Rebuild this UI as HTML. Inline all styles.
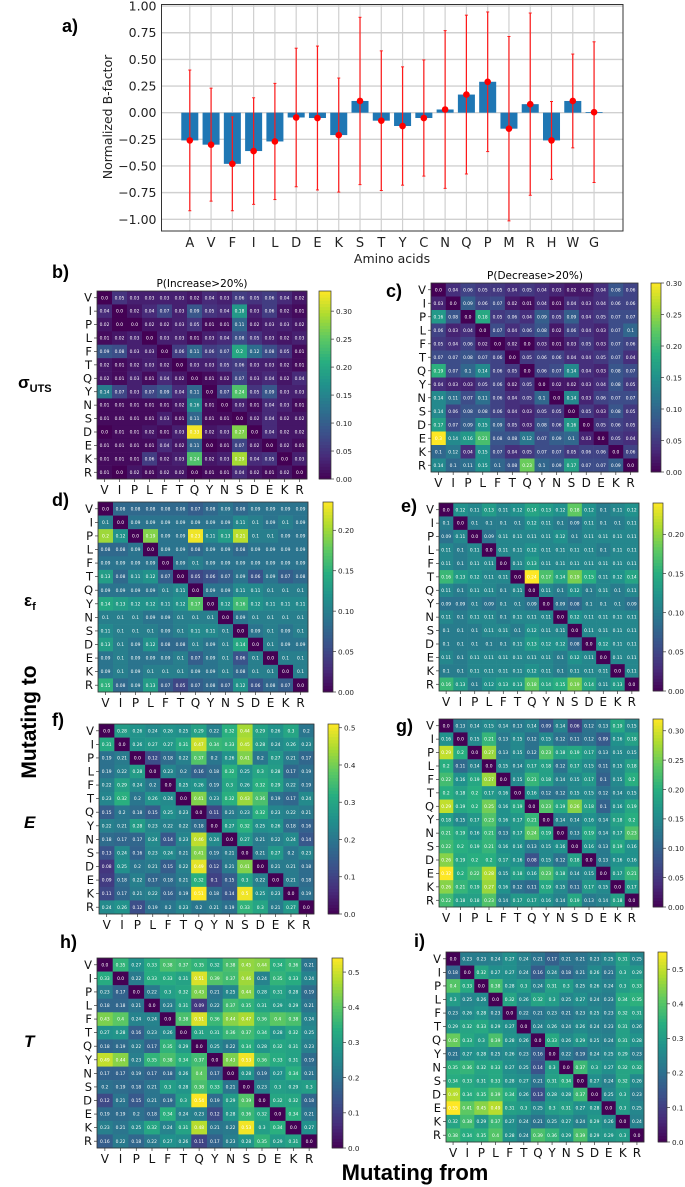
<!DOCTYPE html>
<html><head><meta charset="utf-8">
<style>
html,body{margin:0;padding:0;background:#fff;}
svg{display:block;font-family:"Liberation Sans",sans-serif;}
.dj{font-family:"DejaVu Sans","Liberation Sans",sans-serif;}
</style></head>
<body>
<svg id="fig" width="685" height="1187" viewBox="0 0 685 1187" xmlns="http://www.w3.org/2000/svg">
<text x="62" y="32" font-size="18" font-weight="bold">a)</text>
<text x="52" y="278" font-size="18" font-weight="bold">b)</text>
<text x="386" y="297" font-size="18" font-weight="bold">c)</text>
<text x="52" y="506" font-size="18" font-weight="bold">d)</text>
<text x="401" y="512" font-size="18" font-weight="bold">e)</text>
<text x="52" y="726" font-size="18" font-weight="bold">f)</text>
<text x="396" y="732" font-size="18" font-weight="bold">g)</text>
<text x="60" y="948" font-size="18" font-weight="bold">h)</text>
<text x="414" y="947" font-size="18" font-weight="bold">i)</text>
<text class="dj" x="202" y="287" font-size="10.5" text-anchor="middle">P(Increase&gt;20%)</text>
<text class="dj" x="535" y="279" font-size="10.5" text-anchor="middle">P(Decrease&gt;20%)</text>
<text x="18" y="388" font-size="17" font-weight="bold">σ<tspan font-size="11" dy="4">UTS</tspan></text>
<text x="24" y="606" font-size="17" font-weight="bold">ε<tspan font-size="11" dy="4">f</tspan></text>
<text x="24" y="828" font-size="17" font-weight="bold" font-style="italic">E</text>
<text x="24" y="1047" font-size="17" font-weight="bold" font-style="italic">T</text>
<text x="0" y="0" font-size="21" font-weight="bold" text-anchor="middle" transform="translate(36,722) rotate(-90)">Mutating to</text>
<text x="415" y="1180" font-size="22" font-weight="bold" text-anchor="middle">Mutating from</text>
<g id="barchart" class="dj"></g>
<g id="heatmaps" class="dj"></g>
</svg>
<script>
// ---------- Panel a data ----------
const aminoAcids = ["A","V","F","I","L","D","E","K","S","T","Y","C","N","Q","P","M","R","H","W","G"];
const bMeans = [-0.26,-0.30,-0.48,-0.36,-0.27,-0.045,-0.05,-0.21,0.11,-0.075,-0.125,-0.05,0.03,0.17,0.29,-0.15,0.08,-0.26,0.11,0.005];
const bStds = [0.66,0.53,0.44,0.50,0.545,0.65,0.675,0.535,0.785,0.655,0.555,0.545,0.74,0.745,0.655,0.865,0.855,0.365,0.44,0.66];
const yTicks = [-1.0,-0.75,-0.5,-0.25,0,0.25,0.5,0.75,1.0];
const yTickLabels = ["\u22121.00","\u22120.75","\u22120.50","\u22120.25","0.00","0.25","0.50","0.75","1.00"];

// ---------- Heatmap data ----------
const residues = ["V","I","P","L","F","T","Q","Y","N","S","D","E","K","R"];
const heatIncrease = [
[0,.05,.03,.03,.03,.03,.02,.04,.03,.06,.05,.06,.04,.02],
[.04,0,.02,.04,.07,.03,.09,.05,.04,.18,.03,.06,.02,.01],
[.02,0,0,.02,.02,.03,.05,.01,.01,.11,.02,.03,.03,.02],
[.01,.02,.03,0,.03,.03,.01,.03,.04,.08,.05,.03,.02,.03],
[.09,.08,.03,.03,0,.06,.11,.06,.07,.2,.12,.08,.05,.01],
[.02,.01,.02,.03,.02,0,.03,.03,.05,.06,.03,.03,.02,.01],
[.02,.01,.03,.01,.04,.02,0,.01,.02,.07,.03,.04,.02,.04],
[.14,.07,.03,.07,.09,.04,.11,0,.07,.24,.05,.09,.03,.03],
[.01,.01,.01,.01,.01,.02,.16,.01,0,.03,.01,.04,.03,.01],
[.01,.01,.01,.01,.03,.01,.11,.01,.01,0,.02,.04,.02,.02],
[0,.01,.01,.02,.01,.03,.33,.02,.03,.27,0,.04,.02,.02],
[.01,.01,.01,.01,.04,.02,.11,0,.01,.07,.02,0,.02,.01],
[.01,.01,.01,.06,.02,.03,.24,.02,.03,.29,.04,.05,0,.03],
[.01,0,.02,.01,.02,.02,0,.01,.01,.04,.02,.01,.02,0]];
const heatDecrease = [
[0,.04,.06,.05,.05,.04,.05,.04,.03,.02,.02,.04,.08,.06],
[.03,0,.09,.06,.07,.02,.01,.04,.01,.04,.03,.04,.06,.06],
[.16,.08,0,.18,.05,.06,.04,.09,.05,.09,.04,.05,.07,.07],
[.06,.03,.04,0,.07,.04,.06,.08,.02,.06,.04,.03,.07,.1],
[.05,.04,.06,.02,0,.02,0,.03,.01,.03,.05,.03,.07,.06],
[.07,.07,.08,.07,.06,0,.05,.06,.06,.04,.04,.05,.07,.04],
[.19,.07,.1,.14,.06,.05,0,.06,.07,.14,.04,.03,.08,.07],
[.04,.03,.03,.05,.06,.02,.05,0,.02,.02,.03,.04,.08,.05],
[.14,.11,.07,.11,.06,.04,.05,.1,0,.14,.03,.06,.07,.07],
[.14,.06,.08,.08,.06,.04,.03,.05,.05,0,.05,.03,.08,.05],
[.17,.07,.09,.15,.09,.05,.03,.08,.06,.16,0,.05,.06,.05],
[.3,.14,.16,.21,.08,.08,.12,.07,.09,.1,.03,0,.05,.04],
[.1,.12,.04,.15,.07,.04,.05,.07,.07,.05,.06,.06,0,.06],
[.14,.1,.11,.15,.1,.08,.23,.1,.09,.17,.07,.07,.09,0]];
const heatStrainIncrease = [
[0,.08,.08,.08,.08,.08,.07,.08,.09,.08,.09,.09,.09,.09],
[.1,0,.09,.09,.09,.09,.09,.09,.09,.11,.1,.09,.1,.09],
[.2,.12,0,.19,.09,.09,.23,.11,.13,.21,.1,.1,.09,.09],
[.08,.08,.09,0,.09,.09,.08,.09,.09,.08,.09,.09,.09,.09],
[.09,.09,.09,.09,0,.09,.1,.09,.09,.09,.09,.09,.09,.09],
[.13,.08,.11,.12,.07,0,.05,.06,.07,.09,.06,.09,.07,.08],
[.09,.09,.09,.09,.1,.11,0,.09,.09,.11,.11,.1,.1,.1],
[.14,.13,.12,.12,.11,.12,.17,0,.12,.16,.12,.11,.11,.11],
[.1,.1,.1,.09,.09,.1,.1,.1,0,.09,.1,.1,.1,.1],
[.11,.1,.1,.1,.09,.1,.11,.11,.1,0,.09,.1,.09,.1],
[.13,.1,.09,.12,.08,.08,.1,.09,.1,.14,0,.1,.09,.09],
[.09,.1,.09,.09,.09,.1,.07,.09,.1,.06,.1,0,.1,.1],
[.09,.1,.09,.1,.1,.1,.09,.09,.1,.08,.1,.1,0,.1],
[.15,.08,.09,.13,.07,.05,.07,.08,.07,.12,.06,.08,.07,0]];
const heatStrainDecrease = [
[0,.12,.11,.13,.11,.12,.14,.13,.12,.18,.12,.1,.11,.12],
[.1,0,.1,.1,.1,.1,.12,.11,.1,.09,.11,.1,.1,.11],
[.09,.11,0,.09,.11,.11,.11,.11,.12,.1,.11,.11,.11,.11],
[.11,.1,.11,0,.11,.11,.12,.11,.11,.11,.11,.1,.11,.11],
[.11,.1,.11,.11,0,.11,.13,.11,.11,.11,.11,.11,.11,.11],
[.16,.13,.12,.11,.11,0,.24,.17,.14,.19,.15,.11,.12,.14],
[.11,.1,.11,.11,.1,.11,0,.11,.1,.12,.1,.11,.1,.11],
[.09,.09,.1,.09,.1,.1,.09,0,.09,.08,.1,.1,.1,.09],
[.11,.1,.11,.11,.1,.11,.11,.11,0,.12,.11,.11,.11,.11],
[.1,.1,.1,.11,.11,.1,.12,.11,.11,0,.11,.11,.11,.11],
[.1,.1,.1,.1,.1,.11,.13,.12,.12,.08,0,.12,.11,.11],
[.11,.1,.11,.11,.11,.11,.11,.11,.1,.12,.11,0,.11,.11],
[.1,.1,.11,.11,.11,.11,.12,.11,.1,.11,.11,.11,0,.11],
[.16,.13,.1,.12,.13,.13,.18,.14,.15,.19,.14,.11,.13,0]];
const heatModulusIncrease = [
[0,.28,.26,.24,.26,.25,.29,.22,.32,.44,.29,.26,.3,.2],
[.31,0,.26,.27,.27,.31,.47,.34,.33,.45,.28,.24,.26,.23],
[.19,.21,0,.12,.18,.22,.37,.2,.26,.41,.2,.27,.21,.17],
[.19,.22,.28,0,.23,.2,.16,.18,.32,.25,.3,.28,.17,.19],
[.22,.29,.24,.2,0,.25,.26,.19,.3,.26,.32,.29,.22,.19],
[.23,.32,.2,.26,.24,0,.41,.23,.32,.43,.36,.19,.17,.24],
[.15,.2,.18,.15,.25,.23,0,.11,.21,.23,.32,.23,.22,.21],
[.22,.21,.28,.23,.22,.22,.18,0,.27,.32,.25,.26,.18,.16],
[.18,.17,.17,.24,.14,.23,.46,.24,0,.27,.21,.22,.24,.14],
[.13,.24,.16,.23,.24,.21,.41,.19,.21,0,.21,.27,.2,.23],
[.08,.25,.2,.21,.15,.22,.49,.12,.21,.41,0,.21,.21,.18],
[.09,.18,.22,.17,.18,.21,.32,.1,.15,.3,.22,0,.21,.18],
[.11,.17,.21,.22,.16,.19,.51,.18,.14,.5,.25,.23,0,.19],
[.24,.26,.12,.19,.2,.23,.2,.21,.19,.33,.3,.21,.27,0]];
const heatModulusDecrease = [
[0,.13,.14,.15,.14,.13,.14,.09,.14,.06,.12,.13,.19,.15],
[.16,0,.15,.21,.13,.15,.12,.15,.12,.11,.12,.09,.16,.18],
[.29,.2,0,.27,.13,.15,.12,.23,.18,.19,.17,.13,.15,.15],
[.2,.11,.14,0,.15,.14,.17,.18,.12,.17,.15,.11,.15,.18],
[.22,.16,.19,.27,0,.15,.21,.18,.14,.15,.17,.1,.15,.2],
[.2,.18,.2,.17,.16,0,.16,.12,.12,.15,.15,.12,.14,.15],
[.29,.19,.2,.25,.16,.19,0,.23,.19,.26,.18,.1,.16,.19],
[.18,.15,.17,.23,.16,.17,.21,0,.14,.14,.16,.14,.18,.2],
[.21,.19,.16,.21,.13,.17,.24,.19,0,.13,.19,.14,.17,.23],
[.22,.2,.19,.21,.16,.16,.13,.15,.16,0,.16,.13,.19,.16],
[.26,.19,.2,.2,.17,.16,.08,.15,.12,.18,0,.13,.16,.16],
[.32,.2,.22,.28,.15,.18,.16,.23,.18,.14,.15,0,.17,.21],
[.26,.21,.19,.27,.16,.12,.11,.19,.15,.11,.17,.15,0,.17],
[.22,.18,.18,.23,.14,.17,.17,.16,.14,.19,.13,.14,.18,0]];
const heatToughIncrease = [
[0,.35,.27,.33,.38,.37,.35,.32,.38,.45,.44,.34,.36,.21],
[.33,0,.22,.33,.33,.31,.51,.39,.37,.46,.24,.35,.33,.24],
[.23,.17,0,.22,.3,.32,.43,.21,.25,.44,.28,.31,.28,.19],
[.18,.18,.21,0,.23,.31,.09,.22,.37,.35,.31,.29,.29,.21],
[.43,.4,.24,.24,0,.38,.51,.36,.44,.47,.36,.4,.38,.24],
[.27,.28,.16,.23,.26,0,.31,.31,.36,.37,.34,.28,.32,.25],
[.18,.19,.22,.17,.35,.29,0,.25,.22,.34,.28,.32,.31,.23],
[.49,.44,.23,.35,.38,.34,.37,0,.43,.53,.36,.33,.31,.19],
[.17,.17,.19,.17,.18,.26,.4,.17,0,.28,.19,.27,.34,.21],
[.2,.19,.18,.21,.3,.28,.38,.33,.21,0,.23,.3,.29,.3],
[.12,.21,.15,.21,.19,.3,.54,.19,.29,.39,0,.32,.32,.18],
[.19,.19,.2,.18,.34,.24,.23,.12,.28,.36,.32,0,.34,.21],
[.23,.21,.25,.32,.24,.31,.48,.21,.22,.53,.3,.34,0,.27],
[.16,.22,.18,.22,.27,.26,.11,.17,.23,.28,.35,.29,.31,0]];
const heatToughDecrease = [
[0,.23,.23,.24,.27,.24,.21,.17,.21,.21,.23,.25,.31,.25],
[.18,0,.32,.27,.27,.24,.16,.24,.18,.21,.26,.21,.3,.29],
[.4,.33,0,.38,.28,.3,.24,.31,.3,.25,.26,.24,.3,.33],
[.3,.25,.26,0,.32,.26,.32,.3,.25,.27,.24,.23,.34,.35],
[.23,.26,.28,.23,0,.22,.21,.23,.21,.23,.25,.23,.32,.31],
[.29,.32,.33,.29,.27,0,.24,.26,.24,.26,.24,.23,.31,.26],
[.42,.33,.3,.39,.28,.26,0,.33,.26,.29,.25,.24,.31,.28],
[.21,.27,.28,.25,.26,.23,.16,0,.22,.19,.24,.25,.29,.23],
[.35,.36,.32,.33,.27,.25,.14,.3,0,.37,.3,.27,.32,.32],
[.34,.33,.31,.33,.28,.27,.21,.31,.34,0,.27,.24,.32,.26],
[.49,.34,.35,.39,.34,.26,.13,.28,.28,.37,0,.25,.3,.23],
[.55,.41,.45,.49,.31,.3,.25,.3,.31,.27,.28,0,.3,.25],
[.32,.38,.29,.37,.27,.24,.21,.25,.27,.24,.29,.26,0,.24],
[.38,.34,.35,.4,.28,.24,.39,.36,.29,.39,.29,.29,.3,0]];
const ticks030 = [0,0.05,0.10,0.15,0.20,0.25,0.30];
const ticks020 = [0,0.05,0.10,0.15,0.20];
const ticks05 = [0,0.1,0.2,0.3,0.4,0.5];

const NS = "http://www.w3.org/2000/svg";
function mk(tag, attrs, parent){
  const e = document.createElementNS(NS, tag);
  for (const k in attrs) e.setAttribute(k, attrs[k]);
  if (parent) parent.appendChild(e);
  return e;
}

// ---------- Bar chart ----------
(function(){
  const g = document.getElementById('barchart');
  const L=161.5, R=623, T=4.5, B=231;
  const ymin=-1.11, ymax=1.015, xmin=-1.33, xmax=aminoAcids.length-1+1.36;
  const xs = i => L + (i - xmin)/(xmax - xmin)*(R-L);
  const ys = v => B - (v - ymin)/(ymax - ymin)*(B-T);
  const step = xs(1)-xs(0);
  yTicks.forEach((t,k)=>{
    const gl = mk('line',{x1:L,x2:R,y1:ys(t),y2:ys(t),stroke:'#d0d0d0','stroke-width':1.4},g);
    
    
    const tl = mk('text',{x:L-5,y:ys(t)+4.5,'font-size':12.5,'text-anchor':'end',fill:'#222'},g);
    tl.textContent = yTickLabels[k];
    
    
  });
  aminoAcids.forEach((a,i)=>{
    const gl = mk('line',{x1:xs(i),x2:xs(i),y1:T,y2:B,stroke:'#d0d0d0','stroke-width':1.2},g);
    
    
  });
  aminoAcids.forEach((a,i)=>{
    const v=bMeans[i], w=step*0.8;
    const y0=ys(0), y1=ys(v);
    const bar = mk('rect',{x:xs(i)-w/2,y:Math.min(y0,y1),width:w,height:Math.max(0.8,Math.abs(y1-y0)),fill:'#1f77b4'},g);
    
    
  });
  aminoAcids.forEach((a,i)=>{
    const v=bMeans[i], s=bStds[i];
    const eb = mk('line',{x1:xs(i),x2:xs(i),y1:ys(v-s),y2:ys(v+s),stroke:'#ff1a1a','stroke-width':1.2},g);
    
    
    [v-s,v+s].forEach(c=>{ mk('line',{x1:xs(i)-1.5,x2:xs(i)+1.5,y1:ys(c),y2:ys(c),stroke:'#ff1a1a','stroke-width':1},g); });
    const dot = mk('circle',{cx:xs(i),cy:ys(v),r:3.3,fill:'#ff0000'},g);
    
    
    const xl = mk('text',{x:xs(i),y:247,'font-size':13,'text-anchor':'middle',fill:'#222'},g);
    xl.textContent=a;
    
    
  });
  const fr = mk('rect',{x:L,y:T,width:R-L,height:B-T,fill:'none',stroke:'#333','stroke-width':1},g);
  
  
  const xt = mk('text',{x:392,y:263,'font-size':12.5,'text-anchor':'middle',fill:'#222'},g);
  xt.textContent='Amino acids';
  
  
  const yt = mk('text',{x:0,y:0,'font-size':12.5,'text-anchor':'middle',fill:'#222',transform:'translate(112,117) rotate(-90)'},g);
  yt.textContent='Normalized B-factor';
  
  
})();

// ---------- Heatmaps ----------
const VIR=[[68,1,84],[71,45,123],[59,82,139],[44,114,142],[33,145,140],[40,174,128],[94,201,98],[173,220,48],[253,231,37]];
function viridis(t){
  t=Math.max(0,Math.min(1,t)); const p=t*(VIR.length-1); const i=Math.min(VIR.length-2,Math.floor(p)); const f=p-i;
  const c=VIR[i].map((a,k)=>Math.round(a+(VIR[i+1][k]-a)*f));
  return 'rgb('+c.join(',')+')';
}
function fmt(v){ return v===0 ? '0.0' : String(v); }
const panels = [
  {name:'b',data:heatIncrease,x:97,y:291,w:210,h:188,cx:319,cw:12,vmax:0.336,ticks:ticks030,dec:2},
  {name:'c',data:heatDecrease,x:431,y:283,w:207,h:189,cx:651,cw:10,vmax:0.30,ticks:ticks030,dec:2},
  {name:'d',data:heatStrainIncrease,x:98,y:502,w:210,h:190,cx:323,cw:10,vmax:0.235,ticks:ticks020,dec:2},
  {name:'e',data:heatStrainDecrease,x:439,y:503,w:200,h:188,cx:653,cw:10,vmax:0.24,ticks:ticks020,dec:2},
  {name:'f',data:heatModulusIncrease,x:99,y:724,w:215,h:190,cx:328,cw:11,vmax:0.51,ticks:ticks05,dec:1},
  {name:'g',data:heatModulusDecrease,x:439,y:719,w:200,h:188,cx:653,cw:10,vmax:0.32,ticks:ticks030,dec:2},
  {name:'h',data:heatToughIncrease,x:97,y:958,w:220,h:190,cx:332,cw:11,vmax:0.54,ticks:ticks05,dec:1},
  {name:'i',data:heatToughDecrease,x:446,y:952,w:198,h:190,cx:658,cw:9,vmax:0.55,ticks:ticks05,dec:1}
];
const root = document.getElementById('heatmaps');
panels.forEach(p=>{
  const g = mk('g',{},root);
  
  
  const n = residues.length, cw = p.w/n, ch = p.h/n;
  for (let r=0;r<n;r++){
    for (let c=0;c<n;c++){
      const v = p.data[r][c];
      const cell = mk('rect',{x:p.x+c*cw,y:p.y+r*ch,width:cw+0.3,height:ch+0.3,fill:viridis(v/p.vmax)},g);
      
      
      const t = mk('text',{x:p.x+(c+0.5)*cw,y:p.y+(r+0.5)*ch+1.6,'font-size':4.4,'text-anchor':'middle',fill:'#fff'},g);
      t.textContent = fmt(v);
    }
  }
  mk('rect',{x:p.x,y:p.y,width:p.w,height:p.h,fill:'none',stroke:'#333','stroke-width':0.8},g);
  residues.forEach((res,k)=>{
    const yy = p.y+(k+0.5)*ch;
    mk('line',{x1:p.x-3,x2:p.x,y1:yy,y2:yy,stroke:'#333','stroke-width':0.7},g);
    const rl = mk('text',{x:p.x-5,y:yy+4,'font-size':11.5,'text-anchor':'end',fill:'#111'},g);
    rl.textContent=res;
    
    
    const xx = p.x+(k+0.5)*cw;
    mk('line',{x1:xx,x2:xx,y1:p.y+p.h,y2:p.y+p.h+3,stroke:'#333','stroke-width':0.7},g);
    const cl = mk('text',{x:xx,y:p.y+p.h+15,'font-size':12,'text-anchor':'middle',fill:'#111'},g);
    cl.textContent=res;
    
    
  });
  const cb = mk('g',{},g);
  
  
  const steps=60;
  for (let s=0;s<steps;s++){
    const y0=p.y+p.h - (s+1)*p.h/steps;
    mk('rect',{x:p.cx,y:y0,width:p.cw,height:p.h/steps+0.4,fill:viridis((s+0.5)/steps)},cb);
  }
  mk('rect',{x:p.cx,y:p.y,width:p.cw,height:p.h,fill:'none',stroke:'#333','stroke-width':0.7},cb);
  p.ticks.forEach(t=>{
    if (t>p.vmax+1e-9) return;
    const yy = p.y+p.h - t/p.vmax*p.h;
    mk('line',{x1:p.cx+p.cw,x2:p.cx+p.cw+3,y1:yy,y2:yy,stroke:'#333','stroke-width':0.7},cb);
    const tl = mk('text',{x:p.cx+p.cw+5,y:yy+2.8,'font-size':7.2,fill:'#222'},cb);
    tl.textContent = t.toFixed(p.dec);
    
    
  });
});
</script>
</body></html>
